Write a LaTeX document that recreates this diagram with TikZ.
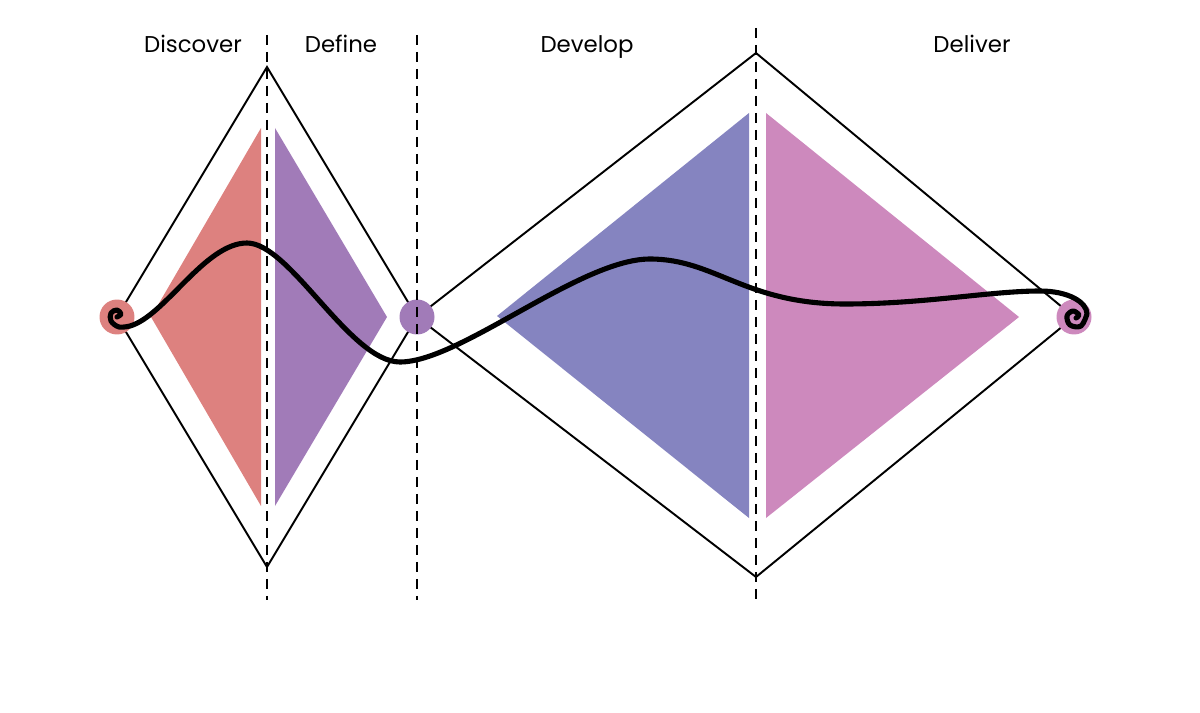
\documentclass[tikz,border=0pt]{standalone}
\usepackage{fontspec}
\setmainfont{Poppins}
\begin{document}
\begin{tikzpicture}[x=0.02cm,y=-0.02cm,
  outline/.style={draw=black,line width=1.1pt,line join=miter},
  divider/.style={draw=black,line width=1.2pt,dash pattern=on 0.2cm off 0.14cm},
  stage/.style={circle,minimum size=0.7cm,inner sep=0pt},
  phase/.style={font=\fontsize{13}{15}\selectfont,inner sep=0pt,anchor=base},
  journey/.style={draw=black,line width=2.9pt,line cap=round,line join=round}]
\definecolor{cRed}{HTML}{DD817F}
\definecolor{cPurple}{HTML}{A17BB8}
\definecolor{cBlue}{HTML}{8584C0}
\definecolor{cPink}{HTML}{CD89BD}
\useasboundingbox (0,0) rectangle (1200,713);
% filled triangles
\fill[cRed] (261,128) -- (261,506) -- (151,317) -- cycle;
\fill[cPurple] (275,128) -- (275,506) -- (387,317) -- cycle;
\fill[cBlue] (749,113) -- (749,518) -- (497,316) -- cycle;
\fill[cPink] (766,113) -- (766,518) -- (1019,317) -- cycle;
% diamond coordinates
\coordinate (dTop1) at (267,67);
\coordinate (dBot1) at (267,567);
\coordinate (dTop2) at (756,53);
\coordinate (dBot2) at (756,577);
% stage circle positions
\coordinate (s1) at (117,317);
\coordinate (s2) at (417,317);
\coordinate (s3) at (1074,317);
% outlines
\draw[outline] (s1) -- (dTop1) -- (s2) -- (dBot1) -- cycle;
\draw[outline] (s2) -- (dTop2) -- (s3) -- (dBot2) -- cycle;
% circles
\node[stage,fill=cRed] (start) at (s1) {};
\node[stage,fill=cPurple] (mid) at (s2) {};
\node[stage,fill=cPink] (finish) at (s3) {};
% dividers
\coordinate (v1t) at (267,35); \coordinate (v1b) at (267,600);
\coordinate (v2t) at (417,35); \coordinate (v2b) at (417,600);
\coordinate (v3t) at (756,28); \coordinate (v3b) at (756,600);
\draw[divider] (v1t) -- (v1b);
\draw[divider] (v2t) -- (v2b);
\draw[divider] (v3t) -- (v3b);
% labels
\node[phase] (discover) at (193,53) {Discover};
\node[phase] (define) at (341,53) {Define};
\node[phase] (develop) at (587,53) {Develop};
\node[phase] (deliver) at (972,53) {Deliver};
% journey curve
\draw[journey] plot[smooth,tension=0.6] coordinates{
   (117,317) (121,314) (117,310) (111,313) (111,321) (119,327) (130,326)}
  .. controls (165,316) and (205,243) .. (247,243)
  .. controls (290,243) and (350,362) .. (400,362)
  .. controls (460,362) and (580,259) .. (650,259)
  .. controls (715,259) and (745,304) .. (845,304)
  .. controls (925,304) and (990,291) .. (1040,291)
  .. controls (1068,291) and (1087,302) .. (1087,314)
  -- plot[smooth,tension=0.6] coordinates{
   (1087,314) (1081,326) (1070,325) (1067,316) (1073,311) (1079,315) (1076,318)};
\end{tikzpicture}
\end{document}
